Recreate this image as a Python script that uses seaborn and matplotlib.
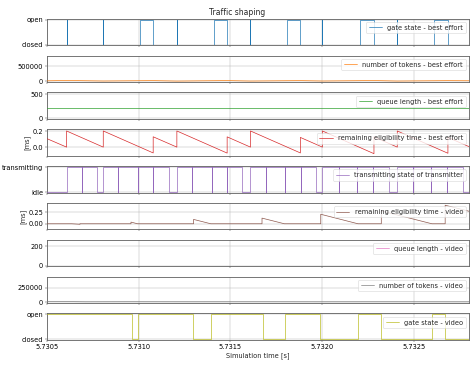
import matplotlib
matplotlib.use("Agg")
import matplotlib.pyplot as plt
import seaborn as sns

# ---------------- data ----------------
x_range = [5.7305, 5.7328]
x_ticks = [5.7305, 5.7310, 5.7315, 5.7320, 5.7325]
x_ticklabels = ["5.7305", "5.7310", "5.7315", "5.7320", "5.7325"]

# gate state - best effort (0 = closed, 1 = open), step-post
gate_be_t = [5.7305, 5.730607, 5.730607, 5.730807, 5.730807, 5.731007, 5.731079,
             5.731208, 5.731208, 5.731409, 5.731482, 5.731609, 5.731609, 5.731809,
             5.731881, 5.732001, 5.732001, 5.732205, 5.732282, 5.732409, 5.732409,
             5.732611, 5.732685, 5.7328]
gate_be_v = [0, 1, 0, 1, 0, 1, 0, 1, 0, 1, 0, 1, 0, 1, 0, 1, 0, 1, 0, 1, 0, 1, 0, 0]

# number of tokens - best effort
tok_be_t = [5.7305, 5.730607, 5.730807, 5.731079, 5.731208, 5.731482, 5.731609,
            5.731881, 5.732001, 5.732282, 5.732409, 5.732685, 5.7328]
tok_be_v = [18000, 30000, 12000, 25000, 10000, 26000, 11000, 25000, 12000, 27000,
            11000, 24000, 20000]

# queue length - best effort
queue_be_t = [5.7305, 5.7328]
queue_be_v = [208, 208]

# remaining eligibility time - best effort [ms]
elig_be_t = [5.7305, 5.730607, 5.730607, 5.730807, 5.730807, 5.731079, 5.731079,
             5.731208, 5.731208, 5.731482, 5.731482, 5.731609, 5.731609, 5.731881,
             5.731881, 5.732001, 5.732001, 5.732282, 5.732282, 5.732409, 5.732409,
             5.732685, 5.732685, 5.7328]
elig_be_v = [0.105, 0.0, 0.2, 0.0, 0.2, -0.072, 0.128, 0.0, 0.2, -0.074, 0.127, 0.0,
             0.2, -0.072, 0.12, 0.0, 0.2, -0.081, 0.127, 0.0, 0.2, -0.076, 0.12, 0.006]

# transmitting state of transmitter (0 = idle, 1 = transmitting), step-post
tx_t = [5.7305, 5.730607, 5.730689, 5.730689, 5.730774, 5.730807, 5.730888, 5.730888,
        5.730994, 5.730994, 5.731079, 5.731079, 5.731164, 5.731208, 5.731291, 5.731291,
        5.731398, 5.731398, 5.731482, 5.731482, 5.731564, 5.731609, 5.731696, 5.731696,
        5.731799, 5.731799, 5.731883, 5.731883, 5.731968, 5.731999, 5.732094, 5.732094,
        5.732188, 5.732188, 5.732277, 5.732277, 5.732364, 5.732409, 5.732493, 5.732493,
        5.732591, 5.732591, 5.732678, 5.732678, 5.732767, 5.7328]
tx_v = [0, 1, 0, 1, 0, 1, 0, 1, 0, 1, 0, 1, 0, 1, 0, 1, 0, 1, 0, 1, 0, 1, 0, 1,
        0, 1, 0, 1, 0, 1, 0, 1, 0, 1, 0, 1, 0, 1, 0, 1, 0, 1, 0, 1, 0, 0]

# remaining eligibility time - video [ms]
elig_v_t = [5.7305, 5.730635, 5.730680, 5.730680, 5.730958, 5.730958, 5.730994,
            5.731299, 5.731299, 5.731393, 5.731672, 5.731672, 5.731794, 5.731992,
            5.731992, 5.732195, 5.732322, 5.732322, 5.732598, 5.732670, 5.732670, 5.7328]
elig_v_v = [0.0, 0.0, -0.01, 0.0, 0.0, 0.036, 0.0, 0.0, 0.094, 0.0, 0.0, 0.122, 0.0,
            0.0, 0.205, 0.0, 0.0, 0.276, 0.0, 0.0, 0.40, 0.27]

# queue length - video
queue_v_t = [5.7305, 5.731299, 5.731393, 5.731672, 5.731794, 5.731992, 5.732195,
             5.732322, 5.732598, 5.732670, 5.7328]
queue_v_v = [0, 1, 0, 1, 0, 1, 0, 1, 0, 1, 1]

# number of tokens - video
tok_v_t = [5.7305, 5.73071, 5.730958, 5.731299, 5.731672, 5.731992, 5.732322,
           5.732670, 5.7328]
tok_v_v = [8000, 500, 1500, 800, 1200, 600, 1000, 500, 400]

# gate state - video (0 = closed, 1 = open), step-post
gate_v_t = [5.7305, 5.730962, 5.730998, 5.731297, 5.731393, 5.731678, 5.731796,
            5.731986, 5.732195, 5.732322, 5.732600, 5.732670, 5.7328]
gate_v_v = [1, 0, 1, 0, 1, 0, 1, 0, 1, 0, 1, 0, 0]

# ---------------- style ----------------
sns.set_style("ticks", {"axes.grid": True})
plt.rcParams["font.family"] = ["DejaVu Sans"]
plt.rcParams["font.size"] = 12
plt.rcParams["axes.edgecolor"] = "#666666"
plt.rcParams["axes.linewidth"] = 1.6
plt.rcParams["xtick.color"] = "#333333"
plt.rcParams["ytick.color"] = "#333333"
plt.rcParams["xtick.labelcolor"] = "black"
plt.rcParams["ytick.labelcolor"] = "black"
plt.rcParams["grid.color"] = "#b8b8b8"
plt.rcParams["grid.linewidth"] = 0.9

pal = sns.color_palette("tab10")

fig, axes = plt.subplots(9, 1, figsize=(12, 9.6), dpi=39.5, sharex=True)
fig.subplots_adjust(left=0.099, right=0.9895, top=0.95, bottom=0.103, hspace=0.39)

panels = [
    (gate_be_t, gate_be_v, "gate state - best effort", True),
    (tok_be_t, tok_be_v, "number of tokens - best effort", False),
    (queue_be_t, queue_be_v, "queue length - best effort", False),
    (elig_be_t, elig_be_v, "remaining eligibility time - best effort", False),
    (tx_t, tx_v, "transmitting state of transmitter", True),
    (elig_v_t, elig_v_v, "remaining eligibility time - video", False),
    (queue_v_t, queue_v_v, "queue length - video", True),
    (tok_v_t, tok_v_v, "number of tokens - video", False),
    (gate_v_t, gate_v_v, "gate state - video", True),
]

for i, (ax, (t, v, lab, step)) in enumerate(zip(axes, panels)):
    kw = {"drawstyle": "steps-post"} if step else {}
    sns.lineplot(x=t, y=v, ax=ax, color=pal[i], label=lab, estimator=None,
                 sort=False, linewidth=1.25, zorder=3, **kw)
    ax.legend(loc="upper right")
    ax.grid(True)
    ax.set_xlim(*x_range)

# y axes
state_lim = (-0.03, 1.03)
axes[0].set_ylim(*state_lim)
axes[0].set_yticks([0, 1], ["closed", "open"])
axes[1].set_ylim(-24000, 860000)
axes[1].set_yticks([0, 500000], ["0", "500000"])
axes[2].set_ylim(-15, 540)
axes[2].set_yticks([0, 500], ["0", "500"])
axes[3].set_ylim(-0.107, 0.221)
axes[3].set_yticks([0.0, 0.2], ["0.0", "0.2"])
axes[3].set_ylabel("[ms]")
axes[4].set_ylim(*state_lim)
axes[4].set_yticks([0, 1], ["idle", "transmitting"])
axes[5].set_ylim(-0.122, 0.449)
axes[5].set_yticks([0.0, 0.25], ["0.00", "0.25"])
axes[5].set_ylabel("[ms]")
axes[6].set_ylim(-7, 269)
axes[6].set_yticks([0, 200], ["0", "200"])
axes[7].set_ylim(-22600, 441000)
axes[7].set_yticks([0, 250000], ["0", "250000"])
axes[8].set_ylim(*state_lim)
axes[8].set_yticks([0, 1], ["closed", "open"])

axes[8].set_xticks(x_ticks, x_ticklabels)
axes[8].set_xlabel("Simulation time [s]")
fig.suptitle("Traffic shaping", fontsize=14)

fig.savefig("out.png", dpi=39.5)
